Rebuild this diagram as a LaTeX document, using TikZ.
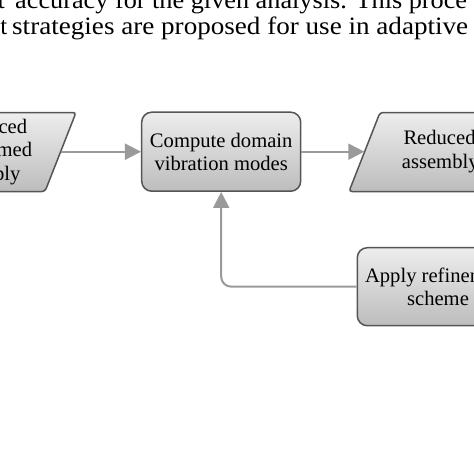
\documentclass[tikz,border=0pt]{standalone}
\usepackage{fontspec}
\setmainfont{Liberation Serif}
\usetikzlibrary{arrows.meta}
\definecolor{arrgray}{HTML}{9A9A9A}
\definecolor{boxline}{HTML}{555555}
\tikzset{
  boxfill/.style={top color=gray!14, bottom color=gray!52, draw=boxline, line width=1.5pt},
  procbox/.style={boxfill, rounded corners=10pt, align=center, inner sep=0pt,
    font=\fontsize{20.6}{23.3}\selectfont},
  boxtext/.style={inner sep=0pt, font=\fontsize{20.6}{23.3}\selectfont},
  bodytext/.style={inner sep=0pt, font=\fontsize{25}{26}\selectfont},
  arr/.style={draw=arrgray, line width=2pt, -{Triangle[length=16pt,width=16pt]}, arrgray},
}
\begin{document}
\begin{tikzpicture}[x=1pt,y=-1pt]
\useasboundingbox (0,0) rectangle (474,474);
\fill[white] (0,0) rectangle (474,474);
\clip (0,0) rectangle (474,474);
% running text
\node[bodytext, anchor=base east] (t1a) at (5,8) {t};
\node[bodytext, anchor=base west] (t1) at (15,8) {\scalebox{1.05}[1]{accuracy for the given analysis. This proce}};
\node[bodytext, anchor=base east] (t2a) at (7.5,34) {t};
\node[bodytext, anchor=base west] (t2) at (12,34) {\resizebox{456pt}{\height}{strategies are proposed for use in adaptive}};
% left parallelogram
\path[boxfill, rounded corners=3pt] (-90,112.5) -- (76,112.5) -- (45,191.5) -- (-121,191.5) -- cycle;
\coordinate (lout) at (60.6,151.7);
\node[boxtext, anchor=base east] (l1) at (27.3,133.3) {Reduced};
\node[boxtext, anchor=base east] (l2) at (32.3,156.7) {transformed};
\node[boxtext, anchor=base east] (l3) at (20.7,180) {assembly};
% middle box
\node[procbox, minimum width=159pt, minimum height=79pt] (mid) at (221.2,151.7) {Compute domain\\vibration modes};
% right parallelogram
\path[boxfill, rounded corners=3pt] (380,112.5) -- (560,112.5) -- (529,191.5) -- (349,191.5) -- cycle;
\coordinate (rin) at (364.3,151.7);
\node[boxtext, anchor=base west] (r1) at (403.3,144.5) {Reduced};
\node[boxtext, anchor=base west] (r2) at (401.7,168) {assembly};
% bottom box
\node[procbox, minimum width=161.4pt, minimum height=78pt] (bot) at (438,286.7) {Apply refinement\\scheme};
% connectors
\draw[arr] (lout) -- (mid.west);
\draw[arr] (mid.east) -- (rin);
\draw[arr, rounded corners=10pt] (bot.west) -| (mid.south);
\end{tikzpicture}
\end{document}
